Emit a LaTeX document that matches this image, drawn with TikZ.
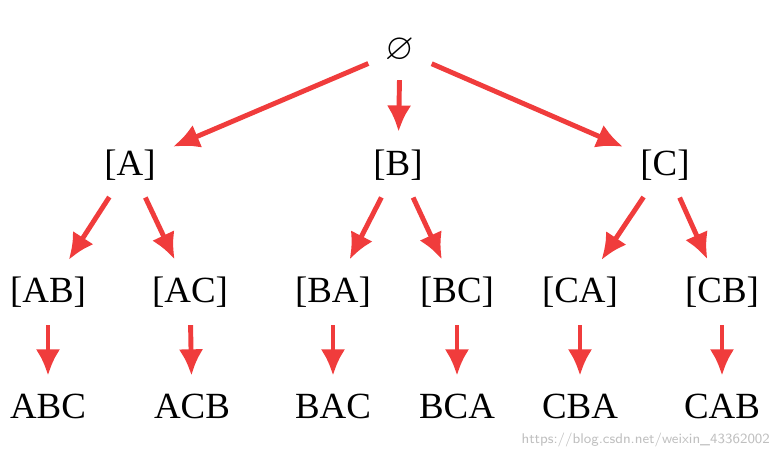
\documentclass[tikz,border=0pt]{standalone}
\usepackage{amssymb}
\usepackage{fontspec}
\setmainfont{Liberation Serif}
\usetikzlibrary{arrows.meta}
\tikzset{
  lbl/.style={font=\fontsize{21}{24}\selectfont, inner sep=6pt},
  redarr/.style={draw={rgb,255:red,240;green,60;blue,60}, line width=2.8pt,
    -{Latex[length=15pt,width=14pt]}, shorten <=4pt, shorten >=4pt}
}
\begin{document}
\begin{tikzpicture}[x=0.02cm,y=-0.02cm]
\useasboundingbox (0,0) rectangle (778,452);
%root
\node[lbl] (root) at (400,50) {$\varnothing$};
%level one
\node[lbl] (A) at (130,165) {[A]};
\node[lbl] (B) at (398,165) {[B]};
\node[lbl] (C) at (665,165) {[C]};
%level two
\node[lbl] (AB) at (48,292) {[AB]};
\node[lbl] (AC) at (190,292) {[AC]};
\node[lbl] (BA) at (333,292) {[BA]};
\node[lbl] (BC) at (457,292) {[BC]};
\node[lbl] (CA) at (580,292) {[CA]};
\node[lbl] (CB) at (722,292) {[CB]};
%leaves
\node[lbl] (ABC) at (48,406) {ABC};
\node[lbl] (ACB) at (192,406) {ACB};
\node[lbl] (BAC) at (333,406) {BAC};
\node[lbl] (BCA) at (457,406) {BCA};
\node[lbl] (CBA) at (580,406) {CBA};
\node[lbl] (CAB) at (722,406) {CAB};
%arrows
\draw[redarr] (root) -- (A);
\draw[redarr] (root) -- (B);
\draw[redarr] (root) -- (C);
\foreach \p/\c in {A/AB,A/AC,B/BA,B/BC,C/CA,C/CB}
  \draw[redarr] (\p) -- (\c);
\foreach \p/\c in {AB/ABC,AC/ACB,BA/BAC,BC/BCA,CA/CBA,CB/CAB}
  \draw[redarr] (\p) -- (\c);
%watermark
\node[text=gray!50, font=\sffamily\footnotesize, anchor=east, inner sep=1pt] (mark) at (772,440) {https://blog.csdn.net/weixin\_43362002};
\end{tikzpicture}
\end{document}
